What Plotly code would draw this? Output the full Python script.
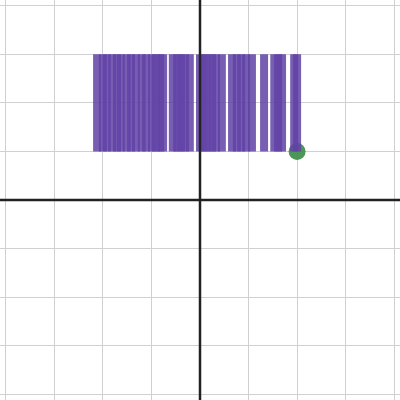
import plotly.graph_objects as go

bar_x = [-2.12, -2.0, -1.92, -1.81, -1.71, -1.63, -1.51, -1.42, -1.32, -1.2, -1.11, -0.99, -0.91, -0.82, -0.76,
         -0.56, -0.47, -0.39, -0.31, -0.21,
         0.0, 0.08, 0.16, 0.25, 0.33, 0.45,
         0.66, 0.76, 0.85, 0.95, 1.07,
         1.32, 1.53, 1.61, 1.69, 1.94, 2.0]
bar_y0 = 1
bar_y1 = 3
point_x = [2]
point_y = [1]

xs, ys = [], []
for x in bar_x:
    xs += [x, x, None]
    ys += [bar_y0, bar_y1, None]

fig = go.Figure()
fig.add_trace(go.Scatter(x=point_x, y=point_y, mode="markers",
                         marker=dict(color="rgba(56,140,70,0.9)", size=17)))
fig.add_trace(go.Scatter(x=xs, y=ys, mode="lines",
                         line=dict(color="rgba(96,66,166,0.85)", width=8), hoverinfo="skip"))
rng = [-4.12, 4.12]
fig.update_xaxes(range=rng, dtick=1, showgrid=True, gridcolor="#d0d0d0", gridwidth=1,
                 zeroline=False, showticklabels=False, fixedrange=True)
fig.update_yaxes(range=rng, dtick=1, showgrid=True, gridcolor="#d0d0d0", gridwidth=1,
                 zeroline=False, showticklabels=False, fixedrange=True)
fig.add_shape(type="line", x0=0, x1=0, y0=rng[0], y1=rng[1], line=dict(color="#222", width=2.5), layer="above")
fig.add_shape(type="line", x0=rng[0], x1=rng[1], y0=0, y1=0, line=dict(color="#222", width=2.5), layer="above")
fig.update_layout(width=400, height=400, margin=dict(l=0, r=0, t=0, b=0),
                  plot_bgcolor="white", paper_bgcolor="white", showlegend=False)
fig.write_html("out.html", config={"displayModeBar": False},
               post_script="document.body.style.margin='0';document.body.style.overflow='hidden';")
